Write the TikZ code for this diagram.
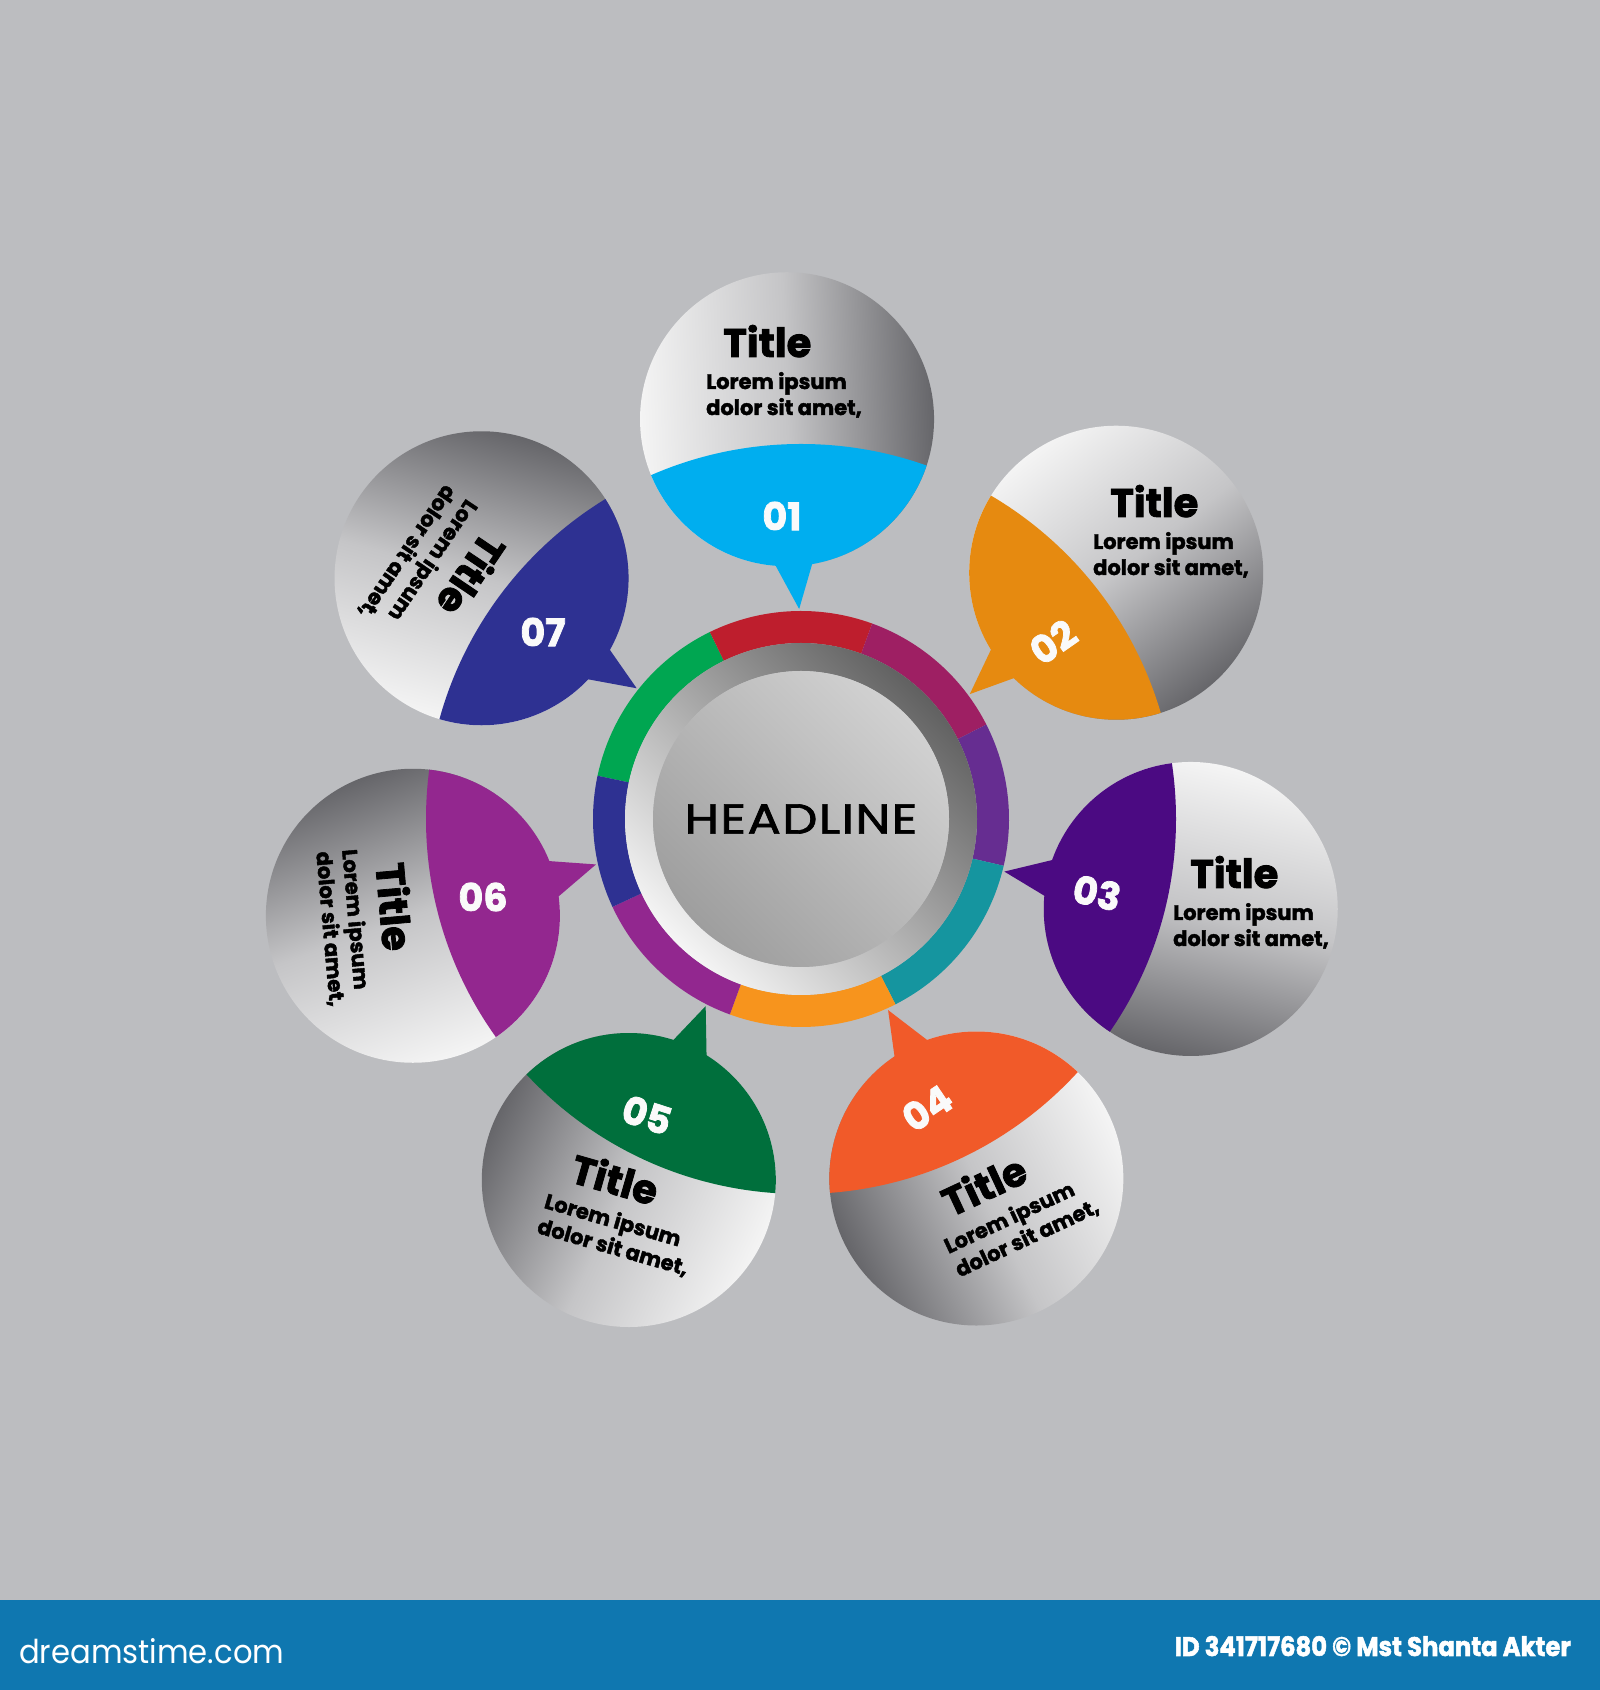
\documentclass[tikz,border=0pt]{standalone}
\usepackage{fontspec}
\usepackage{tikz}
\usepackage{xcolor}
\usetikzlibrary{calc}

\setmainfont{Poppins}[BoldFeatures={FakeBold=2}]
\newfontfamily\headfont{Poppins}[FakeBold=1.5, LetterSpace=3]

\definecolor{bggray}{HTML}{BCBDC0}
\definecolor{barblue}{HTML}{0F77B0}
\definecolor{ringgreen}{HTML}{00A651}
\definecolor{ringred}{HTML}{BE1E2D}
\definecolor{ringwine}{HTML}{9E1F63}
\definecolor{ringviolet}{HTML}{662D91}
\definecolor{ringteal}{HTML}{15959F}
\definecolor{ringorange}{HTML}{F7941D}
\definecolor{ringmagenta}{HTML}{92278F}
\definecolor{ringnavy}{HTML}{2E3192}
\definecolor{bubcyan}{HTML}{00AEEF}
\definecolor{buborange}{HTML}{E68A10}
\definecolor{bubpurple}{HTML}{4B0A82}
\definecolor{bubred}{HTML}{F15A29}
\definecolor{bubgreen}{HTML}{006F3C}
\definecolor{bubmagenta}{HTML}{93278F}
\definecolor{bubnavy}{HTML}{2E3192}
\definecolor{shadelight}{HTML}{F4F4F4}
\definecolor{shademid}{HTML}{C5C5C7}
\definecolor{shadedark}{HTML}{66666A}

\newcommand{\bubbletext}[3]{%
    \begin{scope}[shift={#2}, rotate=#3]
        \node[titletext] (title#1) at (17,0) {Title};
        \node[bodytext] (lorem#1) at (0,-32) {Lorem ipsum};
        \node[bodytext] (dolor#1) at (0,-58) {dolor sit amet,};
    \end{scope}}

\begin{document}
\begin{tikzpicture}[
        x=1pt, y=1pt,
        declare function={
            Dbub=400;
            Rbub=147;
            Rcol=375;
            Dtip=210;
        },
        titletext/.style={font=\fontsize{40}{44}\selectfont\bfseries, inner sep=0pt, anchor=base west, transform shape},
        bodytext/.style={font=\fontsize{21}{25}\selectfont\bfseries, inner sep=0pt, anchor=base west, transform shape},
        numtext/.style={font=\fontsize{38}{40}\selectfont\bfseries, text=white!96!gray, inner sep=0pt},
        bubbleshade/.style={top color=shadelight, bottom color=shadedark, middle color=shademid, shading angle=#1}
    ]
        \useasboundingbox (0,0) rectangle (1600,1690);
        \fill[bggray] (0,0) rectangle (1600,1690);
        \fill[barblue] (0,0) rectangle (1600,90);

        \coordinate (hub) at (801,871);

        % bubbles with their tails
        \foreach \i/\ang/\sh/\col in {1/92/92/bubcyan, 2/38/38/buborange, 3/-13/-13/bubpurple, 4/-64/-64/bubred, 5/-115.5/-115/bubgreen, 6/-166/-160/bubmagenta, 7/143/165/bubnavy}{
            \coordinate (b\i) at ($(hub)+(\ang:Dbub)$);
            \coordinate (tip\i) at ($(hub)+(\ang-1.5:Dtip)$);
            \shade[bubbleshade=\sh] (b\i) circle (Rbub);
            \begin{scope}
                \clip (b\i) circle (Rbub);
                \fill[\col] (hub) circle (Rcol);
            \end{scope}
            \fill[\col] ($(hub)+(\ang+5.5:275)$) -- (tip\i) -- ($(hub)+(\ang-5.5:275)$) -- cycle;
        }

        % coloured ring
        \foreach \a/\b/\col in {168/116/ringgreen, 116/70/ringred, 70/27/ringwine, 27/-13/ringviolet, -13/-63/ringteal, -63/-110/ringorange, -110/-155/ringmagenta, -155/-192/ringnavy}
            \fill[\col] ($(hub)+(\a:208)$) arc[start angle=\a, end angle=\b, radius=208] -- ($(hub)+(\b:176)$) arc[start angle=\b, end angle=\a, radius=176] -- cycle;

        \shade[even odd rule, top color=white!92!gray, bottom color=black!62, shading angle=135] (hub) circle (176) (hub) circle (148);
        \shade[top color=black!18, bottom color=black!38, shading angle=-45] (hub) circle (148);
        \node[font=\headfont\fontsize{42}{46}\selectfont] (headline) at (hub) {\scalebox{1.18}[1]{HEADLINE}};

        % texts
        \bubbletext{1}{(706,1333)}{0}
        \bubbletext{2}{(1093,1173)}{0}
        \bubbletext{3}{(1173,802)}{0}
        \bubbletext{4}{(935,465)}{25}
        \bubbletext{5}{(552,513)}{-16}
        \bubbletext{6}{(374,843)}{-85}
        \bubbletext{7}{(493,1174)}{-124}

        \node[numtext] (num1) at (782,1174) {01};
        \node[numtext, rotate=35] (num2) at (1053,1048) {02};
        \node[numtext, rotate=-12] (num3) at (1097,797) {03};
        \node[numtext, rotate=34] (num4) at (927,582) {04};
        \node[numtext, rotate=-18] (num5) at (647,575) {05};
        \node[numtext] (num6) at (483,793) {06};
        \node[numtext] (num7) at (543,1058) {07};

        \node[anchor=base west, inner sep=0pt, text=white] (site) at (19,26) {\resizebox{265pt}{25pt}{dreamstime.com}};
        \node[anchor=base east, inner sep=0pt, text=white] (credit) at (1571,34) {\resizebox{396pt}{20pt}{\bfseries ID 341717680 © Mst Shanta Akter}};
    \end{tikzpicture}
\end{document}
